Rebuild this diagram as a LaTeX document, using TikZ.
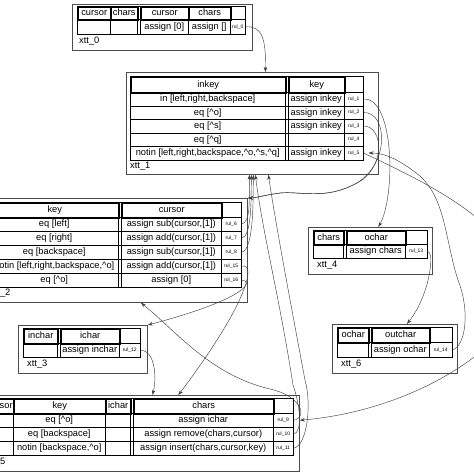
\documentclass[tikz,border=0pt]{standalone}
\usepackage{fontspec}
\usetikzlibrary{arrows.meta}
\newfontfamily\arialish{Liberation Sans}
\newcommand\tabfont{\arialish\fontsize{9.3}{10}\selectfont}
\newcommand\rulfont{\arialish\fontsize{5}{6}\selectfont}
\newcommand\ctl{\textasciicircum}

\begin{document}
\begin{tikzpicture}[x=1pt, y=-1pt,
  cell/.style={draw, line width=0.5pt, anchor=north west, inner sep=0pt,
    minimum height=14, text height=6.8pt, text depth=1.8pt, font=\tabfont},
  head/.style={cell, line width=1.5pt},
  gap/.style={cell, minimum width=3},
  rul/.style={cell, font=\rulfont, text height=3.6pt, text depth=1pt},
  xtt/.style={draw=black!70, line width=0.8pt, anchor=north west, inner sep=0pt},
  tag/.style={anchor=west, inner sep=0pt, font=\tabfont},
  link/.style={black!75, line width=0.45pt, -{Stealth[length=5pt, width=3.5pt]}}]
\useasboundingbox (0,0) rectangle (474,474);
\clip (0,0) rectangle (474,474);

% xtt_0
\node[xtt, minimum width=180, minimum height=46] (xtt0) at (72,4) {};
\node[tag] (lab0) at (79,41) {xtt\_0};
\node[head, minimum width=33, minimum height=13] (t0h1) at (77,6) {cursor};
\node[head, minimum width=27, minimum height=13] (t0h2) at (110,6) {chars};
\node[gap, minimum height=13] (t0h3) at (137,6) {};
\node[head, minimum width=48, minimum height=13] (t0h4) at (140,6) {cursor};
\node[head, minimum width=42, minimum height=13] (t0h5) at (188,6) {chars};
\node[cell, minimum width=15, minimum height=13] (t0h6) at (230,6) {};
\node[cell, minimum width=33, minimum height=15] (t0c1) at (77,19) {};
\node[cell, minimum width=27, minimum height=15] (t0c2) at (110,19) {};
\node[gap, minimum height=15] (t0g) at (137,19) {};
\node[cell, minimum width=48, minimum height=15] (t0a1) at (140,19) {assign [0]};
\node[cell, minimum width=42, minimum height=15] (t0a2) at (188,19) {assign []};
\node[rul, minimum width=15, minimum height=15] (r0) at (230,19) {rul\_0};

% xtt_1
\node[xtt, minimum width=252, minimum height=102] (xtt1) at (126,72) {};
\node[tag] (lab1) at (130,166) {xtt\_1};
\node[head, minimum width=155, minimum height=16] (t1h1) at (130,76) {inkey};
\node[gap, minimum height=16] (t1h2) at (285,76) {};
\node[head, minimum width=56, minimum height=16] (t1h3) at (288,76) {key};
\node[cell, minimum width=19, minimum height=16] (t1h4) at (344,76) {};
\foreach \cnd/\act/\n [count=\i] in {
    {in [left,right,backspace]}/{assign inkey}/1,
    {eq [\ctl o]}/{assign inkey}/2,
    {eq [\ctl s]}/{assign inkey}/3,
    {eq [\ctl q]}/{}/4,
    {notin [left,right,backspace,\ctl o,\ctl s,\ctl q]}/{assign inkey}/5} {
  \node[cell, minimum width=155, minimum height=13.5] (t1c\n) at (130,78.5+13.5*\i) {\cnd};
  \node[gap, minimum height=13.5] (t1g\n) at (285,78.5+13.5*\i) {};
  \node[cell, minimum width=56, minimum height=13.5] (t1a\n) at (288,78.5+13.5*\i) {\act};
  \node[rul, minimum width=19, minimum height=13.5] (r\n) at (344,78.5+13.5*\i) {rul\_\n};
}

% xtt_2
\node[xtt, minimum width=261, minimum height=104] (xtt2) at (-14,198) {};
\node[tag] (lab2) at (-10,293) {xtt\_2};
\node[head, minimum width=128, minimum height=15] (t2h1) at (-10,202) {key};
\node[gap, minimum height=15] (t2h2) at (118,202) {};
\node[head, minimum width=100, minimum height=15] (t2h3) at (121,202) {cursor};
\node[cell, minimum width=20, minimum height=15] (t2h4) at (221,202) {};
\foreach \cnd/\act/\n [count=\i] in {
    {eq [left]}/{assign sub(cursor,[1])}/6,
    {eq [right]}/{assign add(cursor,[1])}/7,
    {eq [backspace]}/{assign sub(cursor,[1])}/8,
    {notin [left,right,backspace,\ctl o]}/{assign add(cursor,[1])}/15,
    {eq [\ctl o]}/{assign [0]}/16} {
  \node[cell, minimum width=128] (t2c\n) at (-10,203+14*\i) {\cnd};
  \node[gap] (t2g\n) at (118,203+14*\i) {};
  \node[cell, minimum width=100] (t2a\n) at (121,203+14*\i) {\act};
  \node[rul, minimum width=20, minimum height=14] (r\n) at (221,203+14*\i) {rul\_\n};
}

% xtt_3
\node[xtt, minimum width=129, minimum height=48] (xtt3) at (18,325) {};
\node[tag] (lab3) at (27,364) {xtt\_3};
\node[head, minimum width=34, minimum height=15] (t3h1) at (23,328) {inchar};
\node[gap, minimum height=15] (t3h2) at (57,328) {};
\node[head, minimum width=59, minimum height=15] (t3h3) at (60,328) {ichar};
\node[cell, minimum width=21, minimum height=15] (t3h4) at (119,328) {};
\node[cell, minimum width=34] (t3c1) at (23,343) {};
\node[gap] (t3g1) at (57,343) {};
\node[cell, minimum width=59] (t3a1) at (60,343) {assign inchar};
\node[rul, minimum width=21, minimum height=14] (r12) at (119,343) {rul\_12};

% xtt_4
\node[xtt, minimum width=124, minimum height=47] (xtt4) at (308,227) {};
\node[tag] (lab4) at (317,265) {xtt\_4};
\node[head, minimum width=30] (t4h1) at (313,230) {chars};
\node[gap] (t4h2) at (343,230) {};
\node[head, minimum width=59] (t4h3) at (346,230) {ochar};
\node[cell, minimum width=22] (t4h4) at (405,230) {};
\node[cell, minimum width=30] (t4c1) at (313,244) {};
\node[gap] (t4g1) at (343,244) {};
\node[cell, minimum width=59] (t4a1) at (346,244) {assign chars};
\node[rul, minimum width=22, minimum height=14] (r13) at (405,244) {rul\_13};

% xtt_6
\node[xtt, minimum width=125, minimum height=49] (xtt6) at (332,324) {};
\node[tag] (lab6) at (341,364) {xtt\_6};
\node[head, minimum width=31, minimum height=15] (t6h1) at (337,327) {ochar};
\node[gap, minimum height=15] (t6h2) at (368,327) {};
\node[head, minimum width=58, minimum height=15] (t6h3) at (371,327) {outchar};
\node[cell, minimum width=23, minimum height=15] (t6h4) at (429,327) {};
\node[cell, minimum width=31, minimum height=15] (t6c1) at (337,342) {};
\node[gap, minimum height=15] (t6g1) at (368,342) {};
\node[cell, minimum width=58, minimum height=15] (t6a1) at (371,342) {assign ochar};
\node[rul, minimum width=23, minimum height=15] (r14) at (429,342) {rul\_14};

% xtt_5
\node[xtt, minimum width=318, minimum height=76] (xtt5) at (-19,395) {};
\node[tag] (lab5) at (-15,462) {xtt\_5};
\node[head, minimum width=28, minimum height=15] (t5h1) at (-15,398) {cursor};
\node[head, minimum width=92, minimum height=15] (t5h2) at (13,398) {key};
\node[head, minimum width=25, minimum height=15] (t5h3) at (105,398) {ichar};
\node[gap, minimum height=15] (t5h4) at (130,398) {};
\node[head, minimum width=140, minimum height=15] (t5h5) at (133,398) {chars};
\node[cell, minimum width=20, minimum height=15] (t5h6) at (273,398) {};
\foreach \cnd/\act/\n [count=\i] in {
    {eq [\ctl o]}/{assign ichar}/9,
    {eq [backspace]}/{assign remove(chars,cursor)}/10,
    {notin [backspace,\ctl o]}/{assign insert(chars,cursor,key)}/11} {
  \node[cell, minimum width=28] (t5u\n) at (-15,399+14*\i) {};
  \node[cell, minimum width=92] (t5c\n) at (13,399+14*\i) {\cnd};
  \node[cell, minimum width=25] (t5i\n) at (105,399+14*\i) {};
  \node[gap] (t5g\n) at (130,399+14*\i) {};
  \node[cell, minimum width=140] (t5a\n) at (133,399+14*\i) {\act};
  \node[rul, minimum width=20, minimum height=14] (r\n) at (273,399+14*\i) {rul\_\n};
}

%%%%%%%%%%%%%%%%%%%%%%%%%%%%%%%%%%%%%%%%

\draw[link] (r0.east) .. controls (262,26) and (266,38) .. ([xshift=13]xtt1.north);
\draw[link] (r1.east) .. controls (394,97) and (396,195) .. ([xshift=8]xtt4.north);
\draw[link] (r2.east) .. controls (388,112) and (390,165) .. (355,184)
  .. controls (325,200) and (300,191) .. (280,193)
  .. controls (265,195) and (255,198) .. (xtt2.north east);
\draw[link] (r3.east) .. controls (384,126) and (386,170) .. (355,184)
  .. controls (325,200) and (300,191) .. (280,193)
  .. controls (265,195) and (255,198) .. (xtt2.north east);
\draw[link] (r5.east) .. controls (420,180) and (520,225) .. (520,290)
  .. controls (520,340) and (420,410) .. (xtt5.east |- r9.east);
\draw[link] (r14.east) .. controls (466,346) and (470,310) .. (458,280)
  .. controls (445,240) and (446,200) .. (420,176)
  .. controls (400,160) and (385,153) .. ([xshift=5]r5.east);
\draw[link] (r13.east) .. controls (435,251) and (430,295) .. ([xshift=12]xtt6.north);
\draw[link] (r12.east) .. controls (155,350) and (157,378) .. ([xshift=12]xtt5.north);
\draw[link] (r15.east) .. controls (256,262) and (250,300) .. ([xshift=38]xtt5.north);
\draw[link] (r16.east) .. controls (254,280) and (250,298) .. (xtt3.north east);
\draw[link] (r6.east) .. controls (251,222) and (249,200) .. ([xshift=-3]xtt1.south);
\draw[link] (r7.east) .. controls (252,236) and (251,200) .. ([xshift=-1]xtt1.south);
\draw[link] (r8.east) .. controls (254,250) and (253,200) .. ([xshift=1]xtt1.south);
\draw[link] (r9.east) .. controls (308,418) and (302,396) .. (270,389)
  .. controls (210,375) and (175,330) .. ([xshift=24]xtt2.south);
\draw[link] (r10.east) .. controls (303,432) and (300,405) .. (293,385)
  .. controls (280,300) and (262,230) .. ([xshift=3]xtt1.south);
\draw[link] (r11.east) .. controls (307,446) and (312,405) .. (305,380)
  .. controls (290,300) and (275,220) .. ([xshift=16]xtt1.south);
\end{tikzpicture}
\end{document}
